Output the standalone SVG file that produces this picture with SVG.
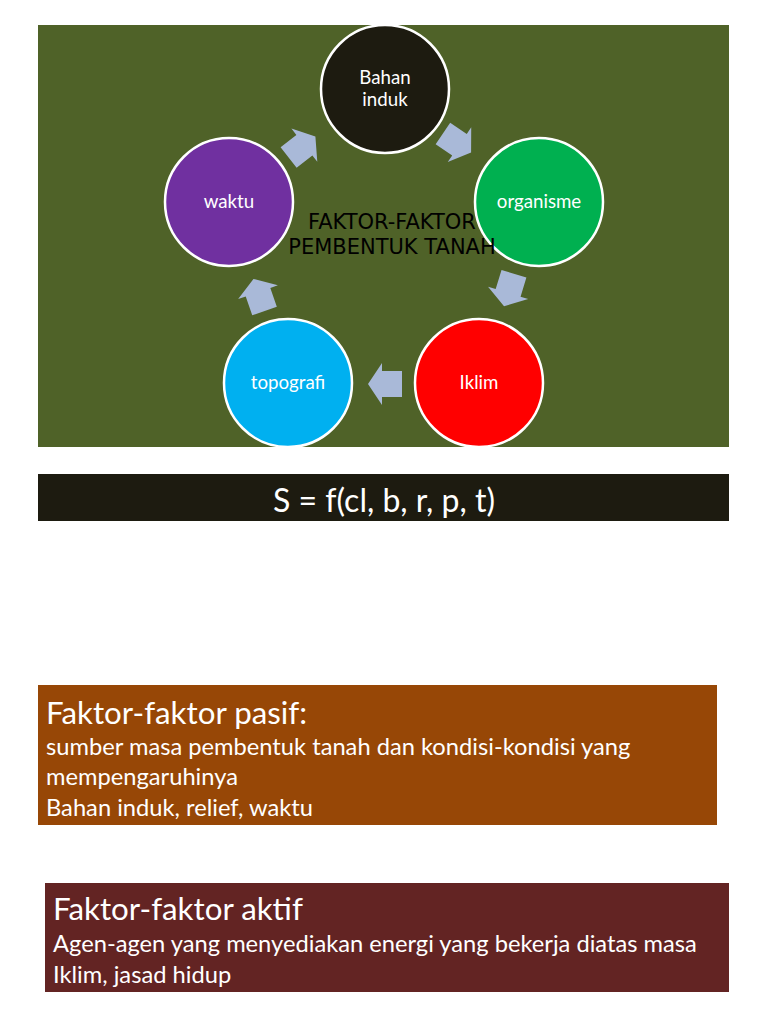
<svg xmlns="http://www.w3.org/2000/svg" width="768" height="1024" viewBox="0 0 768 1024">
<defs>
<style>
.node{stroke:#ffffff;stroke-width:2.5}
.lbl{font-family:Lato,"Open Sans","Noto Sans",sans-serif;fill:#ffffff;font-size:18.7px;text-anchor:middle}
.arrow{fill:#A9B9D8}
.title{font-family:"DejaVu Sans",sans-serif;font-size:21px;fill:#000000;text-anchor:middle}
.head{font-family:Lato,"Open Sans",sans-serif;fill:#ffffff;font-size:31.3px}
.body{font-family:Lato,"Open Sans",sans-serif;fill:#ffffff;font-size:23.7px}
</style>
<polygon id="arr" points="-17,-13 3,-13 3,-21 17,0 3,21 3,13 -17,13"/>
</defs>
<rect x="0" y="0" width="768" height="1024" fill="#ffffff"/>
<rect x="38" y="25" width="691" height="422" fill="#4F6228"/>
<g id="connectors" class="arrow">
<use href="#arr" transform="translate(302,147) rotate(-38)"/>
<use href="#arr" transform="translate(457,143) rotate(34)"/>
<use href="#arr" transform="translate(509,290) rotate(107)"/>
<use href="#arr" transform="translate(385,384) rotate(180)"/>
<use href="#arr" transform="translate(259,295) rotate(-109)"/>
</g>
<g id="bahan-induk"><circle class="node" cx="385" cy="89" r="64" fill="#1D1B10"/><text class="lbl" x="385" y="84">Bahan</text><text class="lbl" x="385" y="106">induk</text></g>
<g id="organisme"><circle class="node" cx="539" cy="202" r="64" fill="#00B050"/><text class="lbl" x="539" y="208">organisme</text></g>
<g id="iklim"><circle class="node" cx="479" cy="383" r="64" fill="#FF0000"/><text class="lbl" x="479" y="389">Iklim</text></g>
<g id="topografi"><circle class="node" cx="288" cy="383" r="64" fill="#00B0F0"/><text class="lbl" x="288" y="389">topografi</text></g>
<g id="waktu"><circle class="node" cx="229" cy="202" r="64" fill="#7030A0"/><text class="lbl" x="229" y="208">waktu</text></g>
<g id="center-title"><text class="title" x="392" y="229">FAKTOR-FAKTOR</text><text class="title" x="392" y="254">PEMBENTUK TANAH</text></g>
<g id="formula"><rect x="38" y="474" width="691" height="47" fill="#1D1B10"/><text x="384" y="512" font-family="Lato,'Open Sans',sans-serif" font-size="32" fill="#ffffff" text-anchor="middle">S = f(cl, b, r, p, t)</text></g>
<g id="pasif"><rect x="38" y="685" width="679" height="140" fill="#974706"/>
<text class="head" x="46" y="724">Faktor-faktor pasif:</text>
<text class="body" x="46" y="755">sumber masa pembentuk tanah dan kondisi-kondisi yang</text>
<text class="body" x="46" y="785">mempengaruhinya</text>
<text class="body" x="46" y="816">Bahan induk, relief, waktu</text></g>
<g id="aktif"><rect x="45" y="883" width="684" height="109" fill="#632423"/>
<text class="head" x="53" y="920">Faktor-faktor aktif</text>
<text class="body" x="53" y="952">Agen-agen yang menyediakan energi yang bekerja diatas masa</text>
<text class="body" x="53" y="983">Iklim, jasad hidup</text></g>
</svg>
